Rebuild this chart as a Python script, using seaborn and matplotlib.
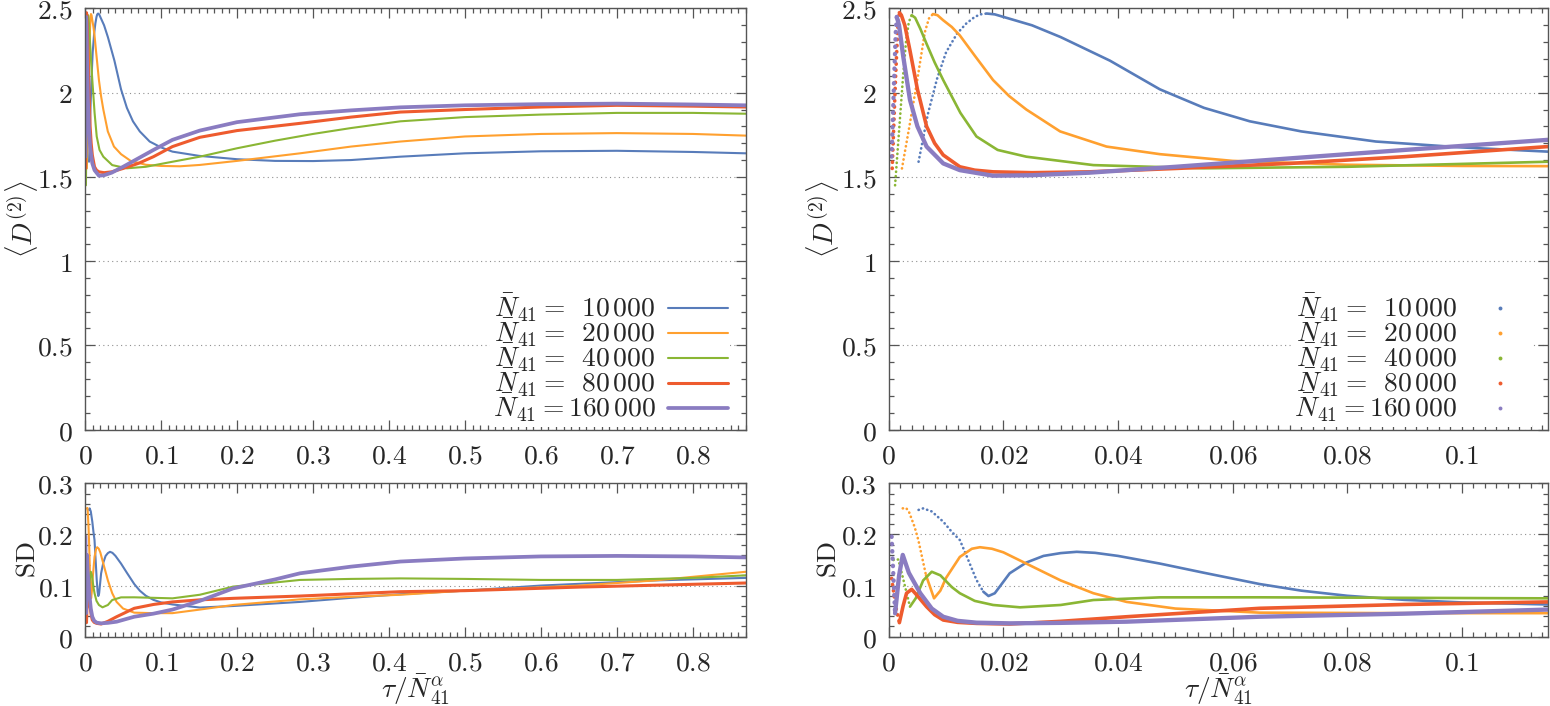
import numpy as np
import pandas as pd
import matplotlib
matplotlib.use('Agg')
import matplotlib.pyplot as plt
import seaborn as sns
from matplotlib.ticker import MultipleLocator, FuncFormatter
from matplotlib.lines import Line2D

sns.set_theme(style='ticks')
plt.rcParams['font.family'] = ['DejaVu Serif']
plt.rcParams['mathtext.fontset'] = 'cm'

# <D2> vs tau / N^alpha
tau_d2_10k = [0.0052, 0.0068, 0.0084, 0.0100, 0.0119, 0.0135, 0.0150, 0.0160, 0.0171, 0.0185,
              0.0200, 0.0250, 0.0300, 0.0386, 0.0473, 0.0550, 0.0630, 0.0720, 0.0850, 0.1000,
              0.1150, 0.1500, 0.2000, 0.2500, 0.3000, 0.3500, 0.4150, 0.5000, 0.6000, 0.7000,
              0.8000, 0.8700]
d2_10k = [1.59, 1.87, 2.08, 2.24, 2.35, 2.41, 2.45, 2.465, 2.47, 2.465,
          2.45, 2.40, 2.33, 2.19, 2.02, 1.91, 1.83, 1.77, 1.71, 1.675,
          1.65, 1.625, 1.605, 1.595, 1.594, 1.60, 1.62, 1.64, 1.652, 1.655,
          1.648, 1.64]

tau_d2_20k = [0.0023, 0.0036, 0.0049, 0.0063, 0.0070, 0.0077, 0.0085, 0.0095, 0.0110, 0.0124,
              0.0150, 0.0182, 0.0210, 0.0240, 0.0299, 0.0380, 0.0473, 0.0600, 0.0800, 0.1000,
              0.1250, 0.1510, 0.2000, 0.2830, 0.3500, 0.4150, 0.5000, 0.6000, 0.7000, 0.8000,
              0.8700]
d2_20k = [1.55, 1.80, 2.06, 2.36, 2.44, 2.467, 2.46, 2.43, 2.39, 2.34,
          2.22, 2.075, 1.98, 1.90, 1.77, 1.68, 1.635, 1.595, 1.572, 1.565,
          1.563, 1.571, 1.595, 1.64, 1.68, 1.71, 1.74, 1.755, 1.76, 1.755,
          1.745]

tau_d2_40k = [0.0011, 0.0025, 0.0030, 0.0035, 0.0040, 0.0046, 0.0055, 0.0066, 0.0080, 0.0095,
              0.0125, 0.0153, 0.0190, 0.0240, 0.0357, 0.0550, 0.0800, 0.1150, 0.1510, 0.2000,
              0.2500, 0.3000, 0.3500, 0.4150, 0.5000, 0.6000, 0.7000, 0.8000, 0.8700]
d2_40k = [1.45, 2.10, 2.30, 2.42, 2.46, 2.445, 2.38, 2.29, 2.18, 2.075,
          1.88, 1.74, 1.66, 1.62, 1.57, 1.551, 1.56, 1.59, 1.62, 1.67,
          1.715, 1.755, 1.79, 1.83, 1.855, 1.87, 1.88, 1.88, 1.875]

tau_d2_80k = [0.0006, 0.0012, 0.0016, 0.00185, 0.0022, 0.0028, 0.0037, 0.0050, 0.0066, 0.0080,
              0.0095, 0.0124, 0.0150, 0.0182, 0.0250, 0.0350, 0.0500, 0.0700, 0.0900, 0.1150,
              0.1510, 0.2000, 0.2830, 0.3500, 0.4150, 0.5000, 0.6000, 0.7000, 0.8000, 0.8700]
d2_80k = [1.55, 2.10, 2.40, 2.475, 2.46, 2.40, 2.25, 2.02, 1.80, 1.70,
          1.63, 1.56, 1.54, 1.53, 1.525, 1.53, 1.55, 1.58, 1.62, 1.68,
          1.735, 1.775, 1.818, 1.855, 1.885, 1.90, 1.915, 1.925, 1.92, 1.915]

tau_d2_160k = [0.0005, 0.0009, 0.0012, 0.0014, 0.0018, 0.0025, 0.0037, 0.0050, 0.0066, 0.0095,
               0.0124, 0.0182, 0.0250, 0.0350, 0.0500, 0.0700, 0.0900, 0.1150, 0.1510, 0.2000,
               0.2830, 0.3500, 0.4150, 0.5000, 0.6000, 0.7000, 0.8000, 0.8700]
d2_160k = [1.62, 2.05, 2.35, 2.45, 2.40, 2.22, 1.957, 1.80, 1.68, 1.58,
           1.54, 1.507, 1.51, 1.525, 1.56, 1.61, 1.66, 1.72, 1.775, 1.825,
           1.872, 1.895, 1.913, 1.925, 1.932, 1.935, 1.93, 1.925]

# SD vs tau / N^alpha
tau_sd_10k = [0.0052, 0.0060, 0.0075, 0.0095, 0.0110, 0.0124, 0.0135, 0.0153, 0.0165, 0.0174,
              0.0185, 0.0195, 0.0211, 0.0240, 0.0270, 0.0300, 0.0328, 0.0360, 0.0400, 0.0473,
              0.0550, 0.0647, 0.0720, 0.0800, 0.0900, 0.1000, 0.1150, 0.1510, 0.1950, 0.2830,
              0.3500, 0.4150, 0.5000, 0.6000, 0.7500, 0.8700]
sd_10k = [0.248, 0.251, 0.245, 0.225, 0.205, 0.189, 0.160, 0.111, 0.088, 0.0795,
          0.085, 0.100, 0.124, 0.145, 0.158, 0.1635, 0.166, 0.164, 0.158, 0.143,
          0.125, 0.103, 0.090, 0.080, 0.072, 0.067, 0.063, 0.057, 0.060, 0.068,
          0.076, 0.083, 0.090, 0.100, 0.110, 0.115]

tau_sd_20k = [0.00244, 0.0030, 0.0035, 0.0045, 0.00516, 0.0065, 0.0079, 0.0090, 0.0100, 0.0124,
              0.0145, 0.0159, 0.0180, 0.0200, 0.0240, 0.0300, 0.0357, 0.0415, 0.0500, 0.0647,
              0.0900, 0.1150, 0.1510, 0.1950, 0.2830, 0.3500, 0.4150, 0.5000, 0.6500, 0.7500,
              0.8700]
sd_20k = [0.251, 0.252, 0.245, 0.215, 0.189, 0.120, 0.075, 0.090, 0.115, 0.156,
          0.172, 0.175, 0.172, 0.165, 0.143, 0.110, 0.085, 0.068, 0.055, 0.047,
          0.046, 0.046, 0.053, 0.062, 0.073, 0.078, 0.082, 0.090, 0.100, 0.110,
          0.127]

tau_sd_40k = [0.0008, 0.00168, 0.0028, 0.0037, 0.0047, 0.0060, 0.0075, 0.0090, 0.0110, 0.0124,
              0.0150, 0.0182, 0.0229, 0.0300, 0.0357, 0.0473, 0.0647, 0.0900, 0.1150, 0.1510,
              0.1950, 0.2500, 0.2830, 0.3500, 0.4150, 0.5000, 0.6000, 0.7000, 0.8000, 0.8700]
sd_40k = [0.150, 0.151, 0.100, 0.0587, 0.075, 0.110, 0.127, 0.120, 0.097, 0.085,
          0.070, 0.062, 0.0574, 0.062, 0.0717, 0.0769, 0.077, 0.076, 0.075, 0.082,
          0.098, 0.106, 0.111, 0.113, 0.114, 0.113, 0.111, 0.111, 0.115, 0.120]

tau_sd_80k = [0.0005, 0.0012, 0.00185, 0.0025, 0.0031, 0.0040, 0.0050, 0.0066, 0.0080, 0.0095,
              0.0120, 0.0153, 0.0211, 0.0300, 0.0415, 0.0647, 0.0900, 0.1150, 0.1510, 0.1950,
              0.2830, 0.4150, 0.5000, 0.6500, 0.8700]
sd_80k = [0.114, 0.060, 0.0274, 0.060, 0.085, 0.0926, 0.080, 0.0587, 0.043, 0.0326,
          0.028, 0.026, 0.0248, 0.030, 0.039, 0.0555, 0.063, 0.068, 0.072, 0.075,
          0.0795, 0.088, 0.090, 0.097, 0.105]

tau_sd_160k = [0.0005, 0.0011, 0.0018, 0.00244, 0.0035, 0.0055, 0.0075, 0.0095, 0.0120, 0.0153,
               0.0211, 0.0300, 0.0415, 0.0647, 0.0900, 0.1150, 0.1510, 0.1950, 0.2500, 0.2830,
               0.3500, 0.4150, 0.5000, 0.6000, 0.7000, 0.8000, 0.8700]
sd_160k = [0.196, 0.0456, 0.120, 0.160, 0.125, 0.085, 0.055, 0.039, 0.031, 0.0274,
           0.0261, 0.027, 0.0293, 0.039, 0.045, 0.053, 0.070, 0.0945, 0.112, 0.124,
           0.137, 0.147, 0.153, 0.157, 0.158, 0.157, 0.155]

sizes = ['10\\,000', '20\\,000', '40\\,000', '80\\,000', '160\\,000']
colors = ['#587cba', '#ffa02f', '#8ab634', '#ee5b2e', '#8a7cc1']
widths = [1.5, 1.5, 1.5, 2.2, 2.7]

series = [
    (tau_d2_10k, d2_10k, tau_sd_10k, sd_10k),
    (tau_d2_20k, d2_20k, tau_sd_20k, sd_20k),
    (tau_d2_40k, d2_40k, tau_sd_40k, sd_40k),
    (tau_d2_80k, d2_80k, tau_sd_80k, sd_80k),
    (tau_d2_160k, d2_160k, tau_sd_160k, sd_160k),
]

labels = []
for s in sizes:
    pad = r'\enspace ' * (7 - len(s.replace('\\,', ' ')))
    labels.append(r'$\bar{N}_{41} = ' + pad + s + '$')

fs = 19.8

fig = plt.figure(figsize=(15.5, 7.06), dpi=100)
ax_tl = fig.add_axes([0.0549, 0.3916, 0.4264, 0.5964])
ax_bl = fig.add_axes([0.0549, 0.0982, 0.4264, 0.2172])
ax_tr = fig.add_axes([0.5734, 0.3916, 0.4252, 0.5964])
ax_br = fig.add_axes([0.5734, 0.0982, 0.4252, 0.2172])

dotted = (0, (0.1, 1.6))

for (td, d, ts, sd), c, lw in zip(series, colors, widths):
    # left column: full range, solid lines
    sns.lineplot(x=td, y=d, ax=ax_tl, color=c, lw=lw, sort=False, estimator=None)
    sns.lineplot(x=ts, y=sd, ax=ax_bl, color=c, lw=lw, sort=False, estimator=None)
    # right column: zoom, early steep part drawn as dots
    rlw = lw + 0.4
    k = int(np.argmax(d))
    xpk = td[k]
    sns.lineplot(x=td[:k + 1], y=d[:k + 1], ax=ax_tr, color=c, lw=rlw, linestyle=dotted,
                 dash_capstyle='round', sort=False, estimator=None)
    sns.lineplot(x=td[k:], y=d[k:], ax=ax_tr, color=c, lw=rlw, sort=False, estimator=None)
    ks = sum(1 for v in ts if v <= xpk)
    sns.lineplot(x=ts[:ks], y=sd[:ks], ax=ax_br, color=c, lw=rlw, linestyle=dotted,
                 dash_capstyle='round', sort=False, estimator=None)
    sns.lineplot(x=ts[max(ks - 1, 0):], y=sd[max(ks - 1, 0):], ax=ax_br, color=c, lw=rlw,
                 sort=False, estimator=None)

fmt = FuncFormatter(lambda v, p: '$%g$' % round(v, 6))
spine_c = '#555555'

for ax in (ax_tl, ax_bl, ax_tr, ax_br):
    for sp in ax.spines.values():
        sp.set_visible(True)
        sp.set_color(spine_c)
        sp.set_linewidth(1.0)
    ax.tick_params(which='both', direction='in', top=True, right=True, color=spine_c,
                   labelsize=fs, width=0.9)
    ax.tick_params(which='major', length=7, pad=9)
    ax.tick_params(which='minor', length=3.5)
    ax.xaxis.set_major_formatter(fmt)
    ax.yaxis.set_major_formatter(fmt)
    ax.yaxis.grid(True, which='major', ls=(0, (1, 3)), color='#909090', lw=0.8)
    ax.set_axisbelow(True)
    ax.set_xlabel('')
    ax.set_ylabel('')

for ax in (ax_tl, ax_bl):
    ax.set_xlim(0, 0.87)
    ax.xaxis.set_major_locator(MultipleLocator(0.1))
    ax.xaxis.set_minor_locator(MultipleLocator(0.01))
for ax in (ax_tr, ax_br):
    ax.set_xlim(0, 0.115)
    ax.xaxis.set_major_locator(MultipleLocator(0.02))
    ax.xaxis.set_minor_locator(MultipleLocator(0.002))
for ax in (ax_tl, ax_tr):
    ax.set_ylim(0, 2.5)
    ax.yaxis.set_major_locator(MultipleLocator(0.5))
    ax.yaxis.set_minor_locator(MultipleLocator(0.1))
    ax.set_ylabel(r'$\langle D^{(2)}\rangle$', fontsize=fs)
for ax in (ax_bl, ax_br):
    ax.set_ylim(0, 0.3)
    ax.yaxis.set_major_locator(MultipleLocator(0.1))
    ax.yaxis.set_minor_locator(MultipleLocator(0.02))
    ax.set_ylabel(r'$\mathrm{SD}$', fontsize=fs)
    ax.set_xlabel(r'$\tau/\bar{N}_{41}^{\alpha}$', fontsize=fs)
    ax.xaxis.set_label_coords(0.5, -0.235)

ax_tl.yaxis.set_label_coords(-0.068, 0.5)
ax_bl.yaxis.set_label_coords(-0.068, 0.5)
ax_tr.yaxis.set_label_coords(-0.072, 0.5)
ax_br.yaxis.set_label_coords(-0.072, 0.5)

line_handles = [Line2D([], [], color=c, lw=lw) for c, lw in zip(colors, widths)]
dot_handles = [Line2D([], [], color=c, marker='o', ls='none', markersize=2.8,
                      markeredgewidth=0) for c in colors]

for ax, hs in ((ax_tl, line_handles), (ax_tr, dot_handles)):
    ax.legend(hs, labels, loc='lower right', bbox_to_anchor=(1 - 13 / 661, 0),
              markerfirst=False, frameon=True, facecolor='white', edgecolor='none',
              framealpha=1, fancybox=False, fontsize=fs, handlelength=2.15,
              handletextpad=0.47, labelspacing=-0.26, borderaxespad=0.1, borderpad=0.1)

fig.savefig('out.png', dpi=100)
